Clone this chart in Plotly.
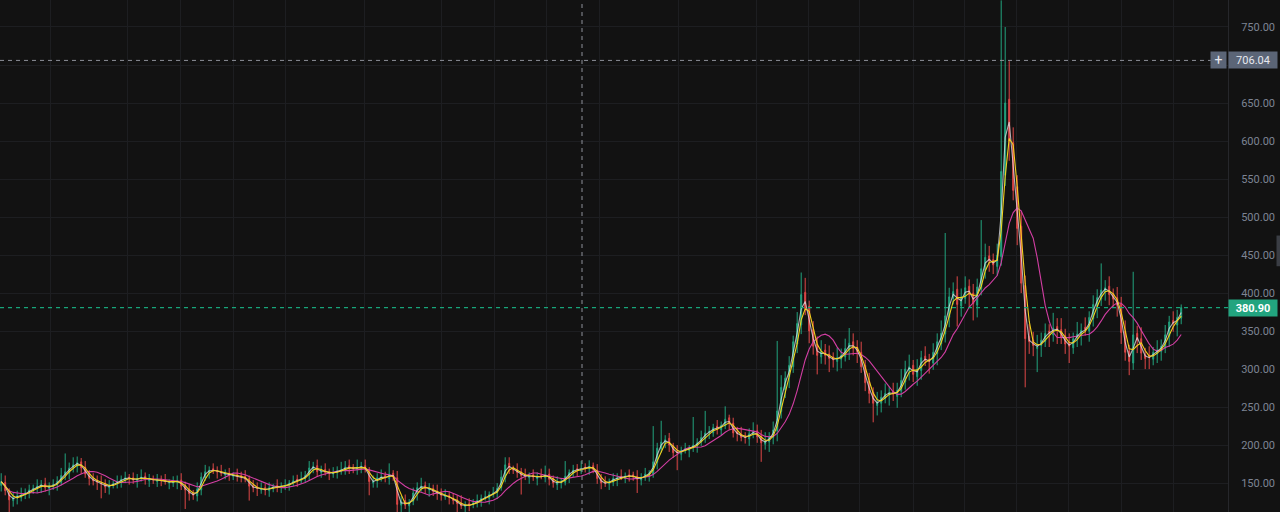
import pandas as pd
import plotly.graph_objects as go

# daily OHLC, oldest first
opens = [147,151,139,127,132,131,136,138,142,144,
         145,149,143,147,149,151,161,163,171,172,
         178,171,163,155,154,150,150,144,148,150,
         151,154,158,157,153,156,159,153,156,152,
         155,154,150,150,151,154,147,142,137,133,
         141,157,164,169,166,165,161,163,159,161,
         160,159,156,147,145,141,144,140,143,147,
         144,145,148,151,155,153,157,161,168,173,
         164,168,165,162,165,165,167,173,171,168,
         170,173,167,150,153,156,160,156,163,157,
         121,127,120,126,136,143,147,141,143,139,
         137,132,134,130,128,124,119,123,122,125,
         126,131,130,136,138,144,157,176,169,168,
         165,161,157,161,156,160,157,162,156,148,
         150,151,158,163,169,166,171,169,173,167,
         157,151,149,151,155,159,156,161,161,159,
         154,157,160,162,177,195,203,209,199,192,
         188,194,193,197,200,204,209,217,216,225,
         220,225,236,229,218,214,212,208,214,219,
         212,201,204,210,219,244,273,290,303,333,
         358,401,383,352,333,316,325,320,316,310,
         313,316,326,336,329,322,305,284,270,252,
         255,262,266,271,264,271,283,298,305,290,
         298,317,313,308,320,333,346,368,393,405,
         383,393,409,400,384,405,430,449,444,435,
         448,555,655,598,540,488,410,343,338,327,
         331,336,350,345,356,352,344,335,328,342,
         344,355,350,366,383,392,402,409,399,394,
         386,350,324,308,347,340,319,318,313,320,
         323,328,343,364,358,367]
highs = [163,160,143,138,140,144,143,148,148,155,
         154,157,151,155,159,170,189,177,184,185,
         183,179,167,163,160,160,155,154,153,160,
         160,165,162,164,162,168,164,162,160,162,
         160,162,155,159,160,163,152,149,141,151,
         164,174,172,176,172,174,168,170,164,169,
         165,167,160,154,151,151,149,151,149,155,
         151,155,154,160,161,165,166,179,178,181,
         173,176,169,171,172,178,179,181,175,181,
         178,181,171,160,163,168,165,176,167,166,
         133,135,129,144,151,157,152,150,148,148,
         143,142,139,137,134,134,126,130,129,135,
         135,140,139,145,150,167,184,184,173,176,
         170,169,164,168,164,169,173,169,160,159,
         157,179,168,174,175,179,176,180,177,175,
         162,159,156,163,163,168,164,168,165,167,
         163,170,167,225,203,232,213,216,203,200,
         198,203,200,237,209,219,245,225,228,233,
         231,251,240,236,224,224,217,222,230,227,
         220,217,217,231,337,292,297,317,344,375,
         427,420,390,363,343,338,333,331,322,328,
         327,340,354,347,338,336,312,295,276,270,
         272,281,277,282,282,300,311,319,312,313,
         324,330,320,334,347,364,479,407,414,422,
         406,422,418,412,419,496,465,462,452,465,
         785,750,705,618,555,507,423,359,349,345,
         348,360,359,374,367,367,353,347,348,362,
         360,368,376,397,405,439,417,422,406,408,
         395,364,332,428,357,355,328,330,329,338,
         339,358,370,376,378,385]
lows = [139,134,112,119,122,126,129,130,136,137,
        137,139,134,141,140,147,154,155,164,164,
        162,157,147,147,141,130,137,135,143,143,
        144,150,148,149,144,152,148,145,149,145,
        146,148,142,145,142,141,116,127,128,126,
        134,153,156,162,156,159,155,153,154,152,
        151,151,127,138,133,136,134,132,138,138,
        137,141,140,146,145,149,151,153,163,158,
        157,160,154,157,156,161,161,162,163,161,
        163,164,134,144,144,152,151,148,153,110,
        111,116,111,121,127,139,136,132,133,128,
        127,128,122,122,110,116,112,113,117,118,
        119,127,122,131,129,140,151,162,162,157,
        135,154,149,153,147,155,151,147,144,141,
        143,147,150,158,159,162,164,161,163,149,
        142,145,141,146,146,154,150,152,153,137,
        147,153,152,157,168,190,196,191,183,167,
        180,189,184,191,190,199,203,208,211,214,
        213,221,220,210,205,205,202,199,209,203,
        178,194,191,201,205,235,262,275,295,321,
        346,371,334,319,293,307,306,296,302,297,
        301,310,312,318,308,295,271,255,230,239,
        243,255,252,258,249,263,273,285,283,278,
        286,304,294,299,305,325,335,355,385,356,
        369,386,381,364,368,397,419,428,425,423,
        436,541,574,522,463,400,276,320,317,296,
        316,329,329,336,333,333,320,308,320,329,
        331,344,336,356,367,383,390,384,382,369,
        333,311,292,299,321,312,300,300,305,308,
        311,321,329,349,343,359]
closes = [152,140,128,131,133,134,137,141,143,146,
          148,144,146,148,152,160,165,170,174,177,
          170,162,156,153,151,149,145,147,149,152,
          155,157,156,154,156,158,155,155,154,154,
          153,152,151,152,153,146,141,136,134,142,
          158,165,167,167,165,163,162,161,160,159,
          158,155,146,144,143,142,141,144,145,145,
          146,147,150,153,154,156,160,170,172,165,
          167,164,163,164,166,168,171,170,169,171,
          172,168,152,152,157,158,157,162,158,122,
          126,121,125,137,144,146,143,142,139,136,
          134,133,131,127,123,120,121,121,124,127,
          130,132,135,137,143,158,174,170,167,164,
          160,159,160,158,158,159,161,155,150,151,
          152,159,164,167,168,169,170,172,168,156,
          150,150,152,156,157,158,159,160,158,155,
          158,162,163,178,196,204,207,200,190,190,
          193,195,196,200,203,210,216,218,223,222,
          226,234,228,216,215,210,210,215,218,211,
          203,205,211,220,245,276,288,305,336,360,
          398,380,350,330,318,323,318,314,312,315,
          318,327,334,327,323,303,282,268,255,256,
          263,268,269,267,272,285,300,303,293,300,
          315,311,310,322,336,347,370,395,402,385,
          395,407,398,386,408,432,447,442,437,450,
          560,650,600,535,485,413,340,336,331,329,
          338,347,348,354,351,342,333,330,340,346,
          351,352,368,385,394,404,407,398,392,384,
          348,322,310,345,338,321,314,316,322,325,
          330,345,362,360,368,380.9]

# month boundaries (bar index) for the vertical grid
month_starts = [12.25, 31.5, 44.75, 58, 71, 90.75, 110, 123.25, 136.25, 149.5,
                169.25, 188.75, 201.75, 214.5, 228, 240.75, 253.75, 266.75, 280, 293]
price_ticks = [150, 200, 250, 300, 350, 400, 450, 500, 550, 600, 650, 700, 750]
crosshair_bar = 145.2
crosshair_price = 706.04
last_price = 380.90

df = pd.DataFrame({"open": opens, "high": highs, "low": lows, "close": closes})
df["ma_fast"] = df["close"].rolling(2, min_periods=1).mean()
df["ma_mid"] = df["close"].rolling(3, min_periods=1).mean()
df["ma_slow"] = df["close"].rolling(9, min_periods=1).mean()

fig = go.Figure()
fig.add_trace(go.Candlestick(
    x=df.index, open=df["open"], high=df["high"], low=df["low"], close=df["close"],
    increasing=dict(line=dict(color="#22a47f", width=1), fillcolor="#22a47f"),
    decreasing=dict(line=dict(color="#e04848", width=1), fillcolor="#e04848"),
    whiskerwidth=0, showlegend=False, hoverinfo="skip"))
# moving averages
fig.add_trace(go.Scatter(x=df.index, y=df["ma_slow"], mode="lines",
                         line=dict(color="#d23ea3", width=1.1), showlegend=False))
fig.add_trace(go.Scatter(x=df.index, y=df["ma_fast"], mode="lines",
                         line=dict(color="rgba(225,225,230,0.75)", width=1.1), showlegend=False))
fig.add_trace(go.Scatter(x=df.index, y=df["ma_mid"], mode="lines",
                         line=dict(color="#f2d01e", width=1.1), showlegend=False))

# crosshair + last price line
fig.add_shape(type="line", xref="x", yref="paper", x0=crosshair_bar, x1=crosshair_bar, y0=0, y1=1,
              line=dict(color="#8d9099", width=1, dash="4px,4px"))
fig.add_shape(type="line", xref="paper", yref="y", x0=0, x1=0.986, y0=crosshair_price, y1=crosshair_price,
              line=dict(color="#8d9099", width=1, dash="4px,4px"))
fig.add_shape(type="line", xref="paper", yref="y", x0=0, x1=1, y0=last_price, y1=last_price,
              line=dict(color="#17a57a", width=1.4, dash="4px,4px"))
# little scroll tab at far right
fig.add_shape(type="rect", xref="paper", yref="paper", x0=1.0395, x1=1.045, y0=0.48, y1=0.54,
              fillcolor="#3a3d44", line=dict(width=0), layer="above")

fig.add_annotation(xref="paper", yref="y", x=1, y=crosshair_price, xanchor="left",
                   text=f"{crosshair_price:.2f}", showarrow=False, bgcolor="#5b6577",
                   font=dict(color="#e6e8ee", size=11, family="Roboto"), width=46, height=14, borderpad=1)
fig.add_annotation(xref="paper", yref="y", x=0.9995, y=crosshair_price, xanchor="right",
                   text="+", showarrow=False, bgcolor="#5b6577",
                   font=dict(color="#e6e8ee", size=14, family="Roboto"), width=13, height=14, borderpad=1)
fig.add_annotation(xref="paper", yref="y", x=1, y=last_price, xanchor="left",
                   text=f"<b>{last_price:.2f}</b>", showarrow=False, bgcolor="#22a47f",
                   font=dict(color="#ffffff", size=11, family="Roboto"), width=46, height=14, borderpad=1)

fig.update_layout(
    width=1280, height=512,
    margin=dict(l=0, r=52, t=0, b=0),
    paper_bgcolor="#121212", plot_bgcolor="#121212",
    font=dict(family="Roboto", size=11, color="#7d8494"),
    hovermode=False,
    boxgap=0.65,
)
fig.update_xaxes(range=[-0.3, 306.7], rangeslider_visible=False, showticklabels=False,
                 tickvals=month_starts, showgrid=True, gridcolor="#1d1e21", gridwidth=1,
                 zeroline=False, showline=False)
# 700 label sits under the crosshair price box, so its text is left blank
fig.update_yaxes(range=[112, 785.5], side="right", tickvals=price_ticks,
                 ticktext=["" if v == 700 else f"{v:.2f}" for v in price_ticks],
                 showgrid=True, gridcolor="#1d1e21", zeroline=False,
                 showline=True, linecolor="#26272b", linewidth=1,
                 ticks="", ticklabelstandoff=10)

fig.write_html("out.html", config={"displayModeBar": False},
               post_script="document.body.style.margin='0';document.body.style.background='#121212';")
